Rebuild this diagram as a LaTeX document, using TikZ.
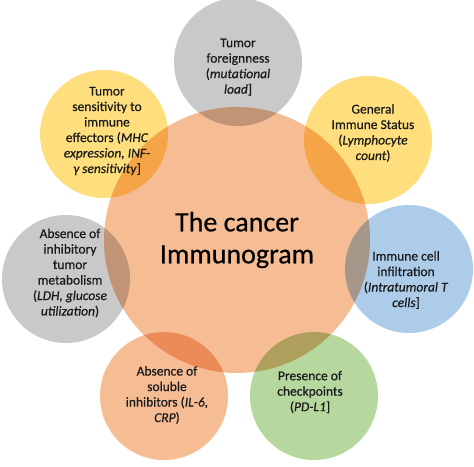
\documentclass[tikz,border=0pt]{standalone}
\usepackage{fontspec}
\setmainfont{Carlito}[UprightFeatures={FakeBold=0.5},ItalicFeatures={FakeBold=0.5}]
\definecolor{cgray}{HTML}{BFBFBF}
\definecolor{cyellow}{HTML}{FFD966}
\definecolor{corange}{HTML}{F4B183}
\definecolor{cblue}{HTML}{9DC3E6}
\definecolor{cgreen}{HTML}{A9D18E}
\definecolor{ctext}{HTML}{1A1A1A}
\begin{document}
\begin{tikzpicture}[x=1pt,y=-1pt,
  bubble/.style={circle,minimum size=128pt,inner sep=0pt,fill opacity=0.85,draw=none},
  bigbubble/.style={circle,minimum size=266pt,inner sep=0pt,fill opacity=0.85,draw=none,fill=corange},
  lbl/.style={align=center,text=ctext,font=\fontsize{13.5}{15.5}\selectfont,inner sep=0pt},
  biglbl/.style={align=center,text=black,font=\fontsize{28}{32}\selectfont,inner sep=0pt}]
\useasboundingbox (0,0) rectangle (474,466);
\begin{scope}[blend group=multiply]
\node[bigbubble] (core) at (237,240) {};
\node[bubble,fill=cgray] (fore) at (238,62) {};
\node[bubble,fill=cyellow] (stat) at (368,140) {};
\node[bubble,fill=cblue] (infl) at (409,269) {};
\node[bubble,fill=cgreen] (chk) at (314,396) {};
\node[bubble,fill=corange] (sol) at (164,396) {};
\node[bubble,fill=cgray] (meta) at (66,279) {};
\node[bubble,fill=cyellow] (sens) at (104,134) {};
\end{scope}
\node[biglbl] (coret) at (237,240) {The cancer\\Immunogram};
\node[lbl] (foret) at (238,67) {Tumor\\foreignness\\(\emph{mutational}\\\emph{load}]};
\node[lbl] (statt) at (373,133) {General\\Immune Status\\(\emph{Lymphocyte}\\\emph{count})};
\node[lbl] (inflt) at (406,280) {Immune cell\\infiltration\\(\emph{Intratumoral T}\\\emph{cells}]};
\node[lbl] (chkt) at (310,392) {Presence of\\checkpoints\\(\emph{PD-L1}]};
\node[lbl] (solt) at (167,395) {Absence of\\soluble\\inhibitors (\emph{IL-6,}\\\emph{CRP})};
\node[lbl] (metat) at (70,273) {Absence of\\inhibitory\\tumor\\metabolism\\(\emph{LDH, glucose}\\\emph{utilization})};
\node[lbl] (senst) at (107,131) {Tumor\\sensitivity to\\immune\\effectors (\emph{MHC}\\\emph{expression, INF-}\\\emph{γ sensitivity}]};
\end{tikzpicture}
\end{document}
